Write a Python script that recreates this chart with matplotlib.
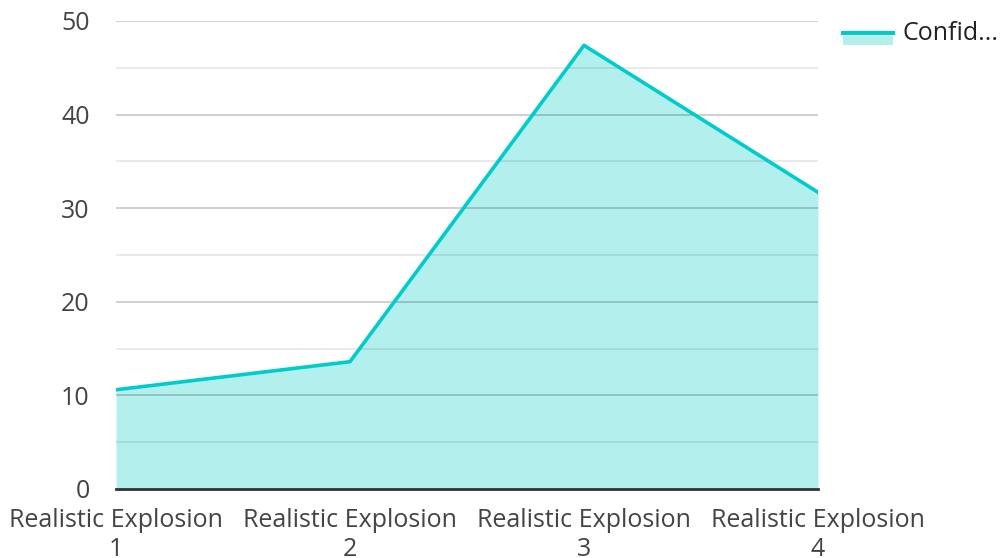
import matplotlib.pyplot as plt
from matplotlib.lines import Line2D
from matplotlib.patches import Rectangle

categories = ["Realistic Explosion\n1", "Realistic Explosion\n2",
              "Realistic Explosion\n3", "Realistic Explosion\n4"]
confidence = [10.6, 13.6, 47.4, 31.7]
series_name = "Confid..."

LINE = "#00cccc"
FILL = "#b2efed"
TXT = "#444444"


def main():
    plt.rcParams['font.family'] = ['Open Sans', 'DejaVu Sans']
    fig = plt.figure(figsize=(10, 5.58), dpi=100)
    ax = fig.add_axes([0.116, 0.1237, 0.702, 0.8387])

    x = list(range(len(categories)))
    ax.fill_between(x, confidence, 0, color=FILL, lw=0, zorder=1)
    ax.plot(x, confidence, color=LINE, lw=2.6, zorder=3)

    ax.set_xlim(0, len(categories) - 1)
    ax.set_ylim(0, 50)

    # grid: major every 10, minor every 5
    for v in range(5, 50, 10):
        ax.axhline(v, color="#000000", alpha=0.09, lw=1.3, zorder=2)
    for v in range(10, 51, 10):
        ax.axhline(v, color="#000000", alpha=0.2, lw=1.3, zorder=2)
    ax.axhline(0, color="#333333", lw=2, zorder=4, clip_on=False)

    ax.set_yticks(range(0, 51, 10))
    ax.set_xticks(x)
    ax.set_xticklabels(categories, linespacing=1.2)
    ax.tick_params(axis="both", length=0, labelsize=18, colors=TXT)
    ax.tick_params(axis="y", pad=19)
    ax.tick_params(axis="x", pad=14)
    for s in ax.spines.values():
        s.set_visible(False)

    # legend drawn by hand
    fig.add_artist(Rectangle((0.843, 1 - 45 / 558), 0.05, 9 / 558,
                             transform=fig.transFigure, color=FILL, lw=0))
    fig.add_artist(Line2D([0.843, 0.893], [1 - 33 / 558, 1 - 33 / 558],
                          transform=fig.transFigure, color=LINE, lw=3))
    fig.text(0.903, 1 - 34 / 558, series_name, fontsize=18, color="#222222",
             va="center", ha="left")

    fig.savefig("out.png", dpi=100)


if __name__ == '__main__':
    main()
